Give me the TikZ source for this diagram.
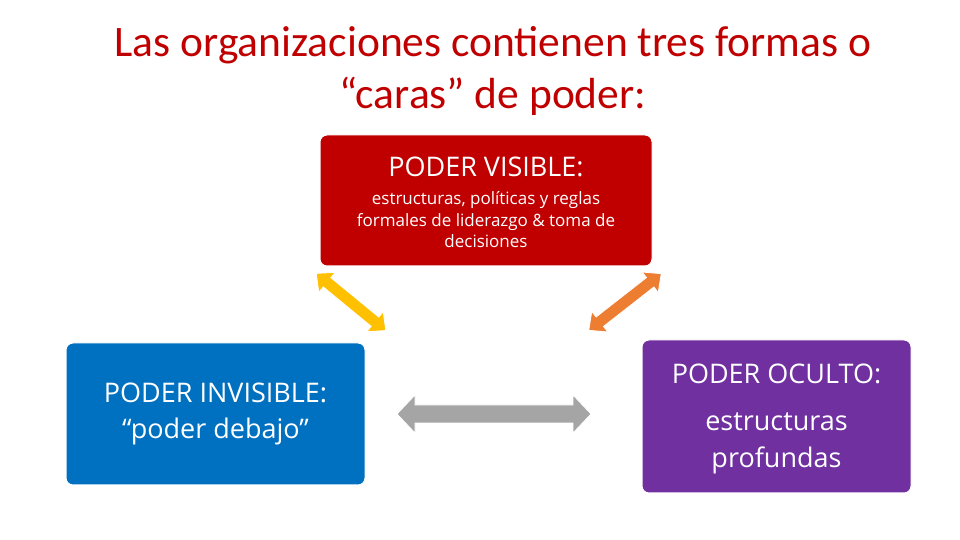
\documentclass[tikz,border=0pt]{standalone}
\usepackage{fontspec}
\setmainfont{Open Sans}
\newfontfamily\titlefont{Carlito}
\definecolor{tred}{HTML}{C00000}
\definecolor{bred}{HTML}{C00000}
\definecolor{bblue}{HTML}{0070C0}
\definecolor{bpurp}{HTML}{7030A0}
\definecolor{ayel}{HTML}{FFC000}
\definecolor{aora}{HTML}{ED7D31}
\definecolor{agray}{HTML}{A5A5A5}
\tikzset{
 box/.style={draw=white,line width=1pt,rounded corners=7pt,text=white,align=center,inner sep=0pt},
 arr/.style={draw=white,line width=0.8pt}
}
% \darr{L/2}{h}{H}{a}
\newcommand{\mydarr}[4]{(-#1,0) -- (-#1+#4,#3) -- (-#1+#4,#2) -- (#1-#4,#2) -- (#1-#4,#3) -- (#1,0) -- (#1-#4,-#3) -- (#1-#4,-#2) -- (-#1+#4,-#2) -- (-#1+#4,-#3) -- cycle}
\begin{document}
\begin{tikzpicture}[x=1pt,y=1pt]
\useasboundingbox (0,0) rectangle (960,540);
\node[text=tred,font=\titlefont\fontsize{43.5}{52}\selectfont,align=center] (title) at (493,469) {Las organizaciones contienen tres formas o\\“caras” de poder:};
\node[box,fill=bred,minimum width=332pt,minimum height=131pt] (vis) at (486,339.5) {};
\node[text=white,font=\fontsize{27}{30}\selectfont] (vt) at (486,373) {PODER VISIBLE:};
\node[text=white,font=\fontsize{17}{21.5}\selectfont,align=center] (vs) at (486,320) {estructuras, políticas y reglas\\formales de liderazgo \& toma de\\decisiones};
\node[box,fill=bblue,minimum width=299pt,minimum height=142pt,font=\fontsize{27}{36}\selectfont] (inv) at (215.5,126) {PODER INVISIBLE:\\“poder debajo”};
\node[box,fill=bpurp,minimum width=269pt,minimum height=153pt] (ocu) at (776.5,123.5) {};
\node[text=white,font=\fontsize{27}{30}\selectfont] (ot) at (776.5,166) {PODER OCULTO:};
\node[text=white,font=\fontsize{27}{37}\selectfont,align=center] (os) at (776.5,97) {estructuras\\profundas};
\filldraw[arr,fill=ayel,shift={(351,238)},rotate=-39.4] \mydarr{45}{6}{13}{14};
\filldraw[arr,fill=aora,shift={(625,238)},rotate=38] \mydarr{46}{6}{13}{14};
\filldraw[arr,fill=agray,shift={(494,126)}] \mydarr{97}{9}{19}{18};
\end{tikzpicture}
\end{document}
